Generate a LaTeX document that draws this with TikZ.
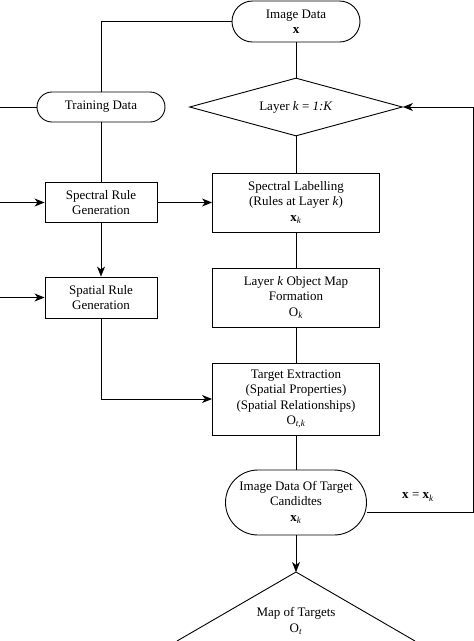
\documentclass[tikz,border=0pt]{standalone}
\usepackage{xcolor}
\usepackage{tikz}
\usepackage{amsmath}
\usepackage{amssymb}
\usepackage{fontspec}
\setmainfont{Liberation Serif}
\usetikzlibrary{shapes.geometric,shapes.misc,arrows.meta}

\begin{document}
\begin{tikzpicture}[x=1pt,y=-1pt,line width=0.9pt,
        font=\fontsize{13}{15.5}\selectfont,
        pill/.style={draw,rounded rectangle,align=center,inner sep=1pt},
        box/.style={draw,rectangle,align=center,inner sep=1pt},
        decision/.style={draw,diamond,align=center,inner sep=0pt,shape aspect=3.6},
        arr/.style={-{Stealth[length=10pt,width=8pt,inset=3pt]}}]
        \useasboundingbox (0,0) rectangle (474,641);

        % Right column
        \node[pill,minimum width=130,minimum height=41] (img) at (296,21.5) {Image Data\\\textbf{x}};
        \node[decision,minimum width=213,minimum height=58] (layer) at (296,107) {Layer \textit{k} = \textit{1:K}};
        \node[box,minimum width=167,minimum height=59] (spec) at (296,202.5) {Spectral Labelling\\(Rules at Layer \textit{k})\\\textbf{x}\textsubscript{\textit{k}}};
        \node[box,minimum width=167,minimum height=59] (omap) at (296,297.5) {Layer \textit{k} Object Map\\Formation\\O\textsubscript{\textit{k}}};
        \node[box,minimum width=167,minimum height=72] (target) at (296,399) {Target Extraction\\(Spatial Properties)\\(Spatial Relationships)\\O\textsubscript{\textit{t,k}}};
        \node[pill,minimum width=143,minimum height=65] (cand) at (296,502.5) {Image Data Of Target\\Candidtes\\\textbf{x}\textsubscript{\textit{k}}};
        \coordinate (maptop) at (296,572);
        \node[align=center] (map) at (296,621) {Map of Targets\\O\textsubscript{\textit{t}}};
        \node (xeq) at (418,497) {\textbf{x} = \textbf{x}\textsubscript{\textit{k}}};

        % Left column
        \node[pill,minimum width=130,minimum height=30] (train) at (101,107) {Training Data};
        \node[box,minimum width=112,minimum height=40] (srule) at (101,202.5) {Spectral Rule\\Generation};
        \node[box,minimum width=112,minimum height=41] (spat) at (101,297.5) {Spatial Rule\\Generation};

        % Free ends at the edges
        \coordinate (intrain) at (0,107);
        \coordinate (insrule) at (0,202.5);
        \coordinate (inspat) at (0,297.5);
        \coordinate (rightx) at (473.5,0);

        % Map of targets outline
        \draw (296-119,641) -- (maptop) -- (296+119,641);

        % Connectors
        \draw (img.west) -| (train.north);
        \draw (intrain) -- (train.west);
        \draw (train.south) -- (srule.north);
        \draw[arr] (insrule) -- (srule.west);
        \draw[arr] (inspat) -- (spat.west);
        \draw[arr] (srule.east) -- (spec.west);
        \draw[arr] (srule.south) -- (spat.north);
        \draw[arr] (spat.south) |- (target.west);
        \draw (img.south) -- (layer.north);
        \draw (layer.south) -- (spec.north);
        \draw (spec.south) -- (omap.north);
        \draw (omap.south) -- (target.north);
        \draw (target.south) -- (cand.north);
        \draw[arr] (cand.south) -- (maptop);
        \draw[arr] ([yshift=-10pt]cand.east) -- ([yshift=-10pt]cand.east -| rightx) |- (layer.east);
    \end{tikzpicture}
\end{document}
